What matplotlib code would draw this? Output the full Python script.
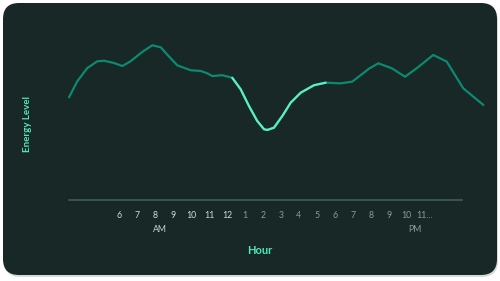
import matplotlib
matplotlib.use('Agg')
import matplotlib.pyplot as plt
import numpy as np
from matplotlib.patches import FancyBboxPatch
from matplotlib.transforms import IdentityTransform

# energy level (hour of day, 0-100 scale)
hours = [3.20, 3.66, 4.22, 4.78, 5.15, 5.70, 6.17, 6.63, 7.28, 7.84,
         8.31, 8.67, 9.23, 9.98, 10.53, 10.90, 11.18, 11.73, 12.29, 12.76,
         13.22, 13.68, 14.06, 14.24, 14.61, 15.08, 15.54, 16.10, 16.84, 17.49,
         18.33, 18.97, 19.62, 19.90, 20.42, 21.17, 21.91, 22.56, 23.48, 24.23,
         25.15, 26.27]
energy = [60.4, 69.8, 77.6, 81.6, 81.9, 80.6, 78.8, 81.6, 87.1, 91.0,
          89.8, 85.5, 79.2, 76.3, 75.9, 74.5, 72.9, 73.4, 71.9, 65.1,
          55.3, 46.5, 41.6, 41.2, 42.5, 49.4, 57.2, 63.1, 67.5, 69.0,
          68.6, 69.6, 74.9, 77.2, 80.4, 77.5, 72.5, 77.5, 85.3, 81.4,
          65.7, 55.9]
slump_start = 12.29
slump_end = 17.49

tick_hours = list(range(6, 24))
am_labels = ['6', '7', '8', '9', '10', '11', '12']
pm_labels = ['1', '2', '3', '4', '5', '6', '7', '8', '9', '10', '11...']

bg = '#172826'
teal = '#0c8a71'
mint = '#5cedc2'

plt.rcParams['font.family'] = ['Lato', 'DejaVu Sans']

fig = plt.figure(figsize=(5.0, 2.81), dpi=100)
fig.patch.set_facecolor('white')

# card with a soft shadow
shadow = FancyBboxPatch((4, 4), 494, 272, boxstyle='round,pad=0,rounding_size=16',
                        transform=IdentityTransform(), facecolor='#bfc4c3',
                        edgecolor='none', alpha=0.6, zorder=0)
card = FancyBboxPatch((3, 6), 494, 272, boxstyle='round,pad=0,rounding_size=16',
                      transform=IdentityTransform(), facecolor=bg,
                      edgecolor='none', zorder=1)
fig.patches.append(shadow)
fig.patches.append(card)

ax = fig.add_axes([0.12, 0.2883, 0.86, 0.605])
ax.set_facecolor('none')
ax.set_zorder(5)

x = np.array(hours)
y = np.array(energy)
ax.plot(x, y, color=teal, lw=1.6, solid_capstyle='round', solid_joinstyle='round')
m = (x >= slump_start) & (x <= slump_end)
ax.plot(x[m], y[m], color=mint, lw=1.6, solid_capstyle='round', solid_joinstyle='round')

ax.set_xlim(2.70, 26.64)
ax.set_ylim(0, 100)

for s in ['top', 'right', 'left']:
    ax.spines[s].set_visible(False)
ax.spines['bottom'].set_color('#43605a')
ax.spines['bottom'].set_linewidth(1.1)
ax.spines['bottom'].set_bounds(3.2, 25.1)
ax.set_yticks([])

ax.set_xticks(tick_hours)
ax.set_xticklabels(am_labels + pm_labels)
ax.tick_params(axis='x', length=0, pad=8, labelsize=6.3)
for i, lab in enumerate(ax.get_xticklabels()):
    lab.set_color('#d3dcd9' if i < len(am_labels) else '#8c9c98')

ax.text(8.27, -0.171, 'AM', transform=ax.get_xaxis_transform(), ha='center',
        va='center', fontsize=6.3, color='#c8d2cf')
ax.text(22.48, -0.171, 'PM', transform=ax.get_xaxis_transform(), ha='center',
        va='center', fontsize=6.3, color='#8c9c98')

fig.text(0.52, 0.110, 'Hour', ha='center', va='center', fontsize=8,
         fontweight='bold', color='#52e6b6', zorder=5)
fig.text(0.054, 0.56, 'Energy Level', ha='center', va='center', rotation=90,
         fontsize=7, fontweight='bold', color='#52e6b6', zorder=5)

fig.savefig('out.png', dpi=100, facecolor='white')
